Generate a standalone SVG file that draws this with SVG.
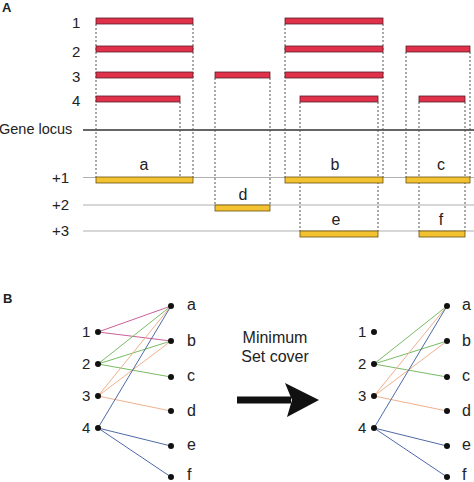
<svg xmlns="http://www.w3.org/2000/svg" width="474" height="482" viewBox="0 0 474 482">
<style>
text{font-family:"Liberation Sans Narrow","Liberation Sans",Arial,sans-serif;fill:#222}
.lbl{font-size:15px}
.let{font-size:16px}
.big{font-family:"Liberation Sans",Arial,sans-serif;font-size:13px;font-weight:bold}
.red{fill:#e0304a;stroke:#5a2028;stroke-width:0.8}
.yel{fill:#f2c230;stroke:#6a5010;stroke-width:0.8}
.dot{fill:none;stroke:#555;stroke-width:1;stroke-dasharray:2 2}
.trk{stroke:#b0b0b0;stroke-width:1.2}
.loc{stroke:#333;stroke-width:1.3}
.pk{stroke:#c8609a;stroke-width:1}
.gr{stroke:#78bc64;stroke-width:1}
.or{stroke:#f0b08c;stroke-width:1}
.bl{stroke:#4e6aa8;stroke-width:1}
.nd{fill:#111}
</style>
<rect width="474" height="482" fill="#fff"/>
<g id="panelA">
<text class="big" x="2" y="12">A</text>
<g id="labels-reads">
<text class="lbl" x="72" y="28">1</text>
<text class="lbl" x="72" y="57">2</text>
<text class="lbl" x="72" y="82">3</text>
<text class="lbl" x="72" y="106">4</text>
<text class="lbl" x="-1" y="134" style="font-size:14.5px">Gene locus</text>
<text class="lbl" x="52" y="183">+1</text>
<text class="lbl" x="52" y="210">+2</text>
<text class="lbl" x="52" y="236">+3</text>
</g>
<g id="tracks">
<line class="loc" x1="83" y1="130" x2="474" y2="130"/>
<line class="trk" x1="83" y1="177.5" x2="474" y2="177.5"/>
<line class="trk" x1="83" y1="205" x2="474" y2="205"/>
<line class="trk" x1="83" y1="231" x2="474" y2="231"/>
</g>
<g id="dotted">
<line class="dot" x1="96" y1="24" x2="96" y2="177"/>
<line class="dot" x1="193" y1="24" x2="193" y2="177"/>
<line class="dot" x1="180" y1="102" x2="180" y2="177"/>
<line class="dot" x1="215" y1="78" x2="215" y2="205"/>
<line class="dot" x1="270" y1="78" x2="270" y2="205"/>
<line class="dot" x1="285" y1="24" x2="285" y2="177"/>
<line class="dot" x1="383" y1="24" x2="383" y2="177"/>
<line class="dot" x1="300" y1="102" x2="300" y2="231"/>
<line class="dot" x1="378" y1="102" x2="378" y2="231"/>
<line class="dot" x1="406" y1="52" x2="406" y2="177"/>
<line class="dot" x1="470" y1="52" x2="470" y2="177"/>
<line class="dot" x1="419" y1="102" x2="419" y2="231"/>
<line class="dot" x1="465" y1="102" x2="465" y2="231"/>
</g>
<g id="reads">
<rect class="red" x="96" y="18" width="97" height="6"/>
<rect class="red" x="285" y="18" width="98" height="6"/>
<rect class="red" x="96" y="46" width="97" height="6"/>
<rect class="red" x="285" y="46" width="98" height="6"/>
<rect class="red" x="406" y="46" width="64" height="6"/>
<rect class="red" x="96" y="72" width="97" height="6"/>
<rect class="red" x="215" y="72" width="55" height="6"/>
<rect class="red" x="285" y="72" width="98" height="6"/>
<rect class="red" x="96" y="96" width="84" height="6"/>
<rect class="red" x="300" y="96" width="78" height="6"/>
<rect class="red" x="419" y="96" width="46" height="6"/>
</g>
<g id="orfs">
<rect class="yel" x="96" y="177" width="97" height="6"/>
<rect class="yel" x="285" y="177" width="98" height="6"/>
<rect class="yel" x="406" y="177" width="64" height="6"/>
<rect class="yel" x="215" y="205" width="55" height="6"/>
<rect class="yel" x="300" y="231" width="78" height="6"/>
<rect class="yel" x="419" y="231" width="46" height="6"/>
<text class="let" x="144" y="170" text-anchor="middle">a</text>
<text class="let" x="335" y="170" text-anchor="middle">b</text>
<text class="let" x="441" y="170" text-anchor="middle">c</text>
<text class="let" x="243" y="200" text-anchor="middle">d</text>
<text class="let" x="336" y="225" text-anchor="middle">e</text>
<text class="let" x="441" y="225" text-anchor="middle">f</text>
</g>
</g>
<g id="panelB">
<text class="big" x="3" y="303">B</text>
<g id="connectors">
<line class="pk" x1="98" y1="332" x2="171" y2="306"/>
<line class="pk" x1="98" y1="332" x2="171" y2="341"/>
<line class="gr" x1="98" y1="364" x2="171" y2="306"/>
<line class="gr" x1="98" y1="364" x2="171" y2="341"/>
<line class="gr" x1="98" y1="364" x2="171" y2="377"/>
<line class="or" x1="98" y1="396" x2="171" y2="306"/>
<line class="or" x1="98" y1="396" x2="171" y2="341"/>
<line class="or" x1="98" y1="396" x2="171" y2="411"/>
<line class="bl" x1="98" y1="428" x2="171" y2="306"/>
<line class="bl" x1="98" y1="428" x2="171" y2="446"/>
<line class="bl" x1="98" y1="428" x2="171" y2="477"/>
<line class="gr" x1="374" y1="364" x2="447" y2="306"/>
<line class="gr" x1="374" y1="364" x2="447" y2="341"/>
<line class="gr" x1="374" y1="364" x2="447" y2="377"/>
<line class="or" x1="374" y1="396" x2="447" y2="306"/>
<line class="or" x1="374" y1="396" x2="447" y2="341"/>
<line class="or" x1="374" y1="396" x2="447" y2="411"/>
<line class="bl" x1="374" y1="428" x2="447" y2="306"/>
<line class="bl" x1="374" y1="428" x2="447" y2="446"/>
<line class="bl" x1="374" y1="428" x2="447" y2="477"/>
</g>
<g id="graph1">
<circle class="nd" cx="98" cy="332" r="3"/><text class="lbl" x="82" y="337">1</text>
<circle class="nd" cx="98" cy="364" r="3"/><text class="lbl" x="82" y="369">2</text>
<circle class="nd" cx="98" cy="396" r="3"/><text class="lbl" x="82" y="401">3</text>
<circle class="nd" cx="98" cy="428" r="3"/><text class="lbl" x="82" y="433">4</text>
<circle class="nd" cx="171" cy="306" r="3"/><text class="let" x="187" y="310">a</text>
<circle class="nd" cx="171" cy="341" r="3"/><text class="let" x="187" y="346">b</text>
<circle class="nd" cx="171" cy="377" r="3"/><text class="let" x="187" y="381">c</text>
<circle class="nd" cx="171" cy="411" r="3"/><text class="let" x="187" y="416">d</text>
<circle class="nd" cx="171" cy="446" r="3"/><text class="let" x="187" y="450">e</text>
<circle class="nd" cx="171" cy="477" r="3"/><text class="let" x="187" y="480">f</text>
</g>
<g id="arrow">
<text class="let" x="275" y="343" text-anchor="middle">Minimum</text>
<text class="let" x="275" y="362" text-anchor="middle">Set cover</text>
<rect x="237" y="396.5" width="54" height="7" fill="#111"/>
<polygon points="285,383 319,400 287,417 292,400" fill="#111"/>
</g>
<g id="graph2">
<circle class="nd" cx="374" cy="332" r="3"/><text class="lbl" x="358" y="337">1</text>
<circle class="nd" cx="374" cy="364" r="3"/><text class="lbl" x="358" y="369">2</text>
<circle class="nd" cx="374" cy="396" r="3"/><text class="lbl" x="358" y="401">3</text>
<circle class="nd" cx="374" cy="428" r="3"/><text class="lbl" x="358" y="433">4</text>
<circle class="nd" cx="447" cy="306" r="3"/><text class="let" x="462" y="310">a</text>
<circle class="nd" cx="447" cy="341" r="3"/><text class="let" x="462" y="346">b</text>
<circle class="nd" cx="447" cy="377" r="3"/><text class="let" x="462" y="381">c</text>
<circle class="nd" cx="447" cy="411" r="3"/><text class="let" x="462" y="416">d</text>
<circle class="nd" cx="447" cy="446" r="3"/><text class="let" x="462" y="450">e</text>
<circle class="nd" cx="447" cy="477" r="3"/><text class="let" x="462" y="480">f</text>
</g>
</g>
</svg>
